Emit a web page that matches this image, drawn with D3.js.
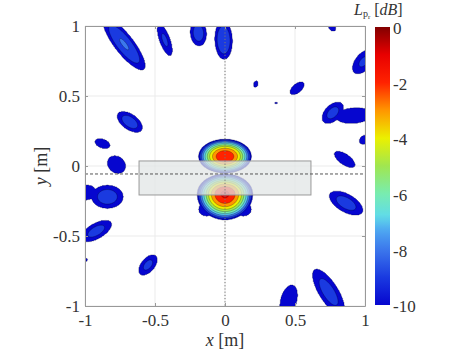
<!DOCTYPE html>
<html>
<head>
  <meta charset="utf-8">
  <title>Pressure level map</title>
  <script src="https://d3js.org/d3.v7.min.js"></script>
  <style>
    body { margin: 0; background: #fff; }
    .lbl { font-family: "Liberation Serif", "DejaVu Serif", serif; fill: #333; }
    .axis path, .axis line { stroke: #999; }
  </style>
</head>
<body>
<svg id="chart"></svg>
<script>
  // lobes: [x, y, half-length, half-width, angle (deg), peak dB]
  // 7th / 8th entries (optional) = half-length / half-width on the negative side
  var mainLobes = [
    [0, 0.068, 0.19, 0.125, 0, -1.0, 0.19, 0.12],
    [0, -0.2, 0.2, 0.145, 0, -0.8, 0.2, 0.186],
    [-0.13, -0.31, 0.06, 0.05, 0, -9.0],
    [0.13, -0.31, 0.06, 0.05, 0, -9.0]
  ];
  var topLobes = [
    [-0.72, 0.87, 0.23, 0.07, -52, -7.9],
    [-0.43, 0.9, 0.12, 0.04, -70, -8.8],
    [-0.19, 0.95, 0.095, 0.06, -85, -8.4],
    [-0.01, 0.9, 0.14, 0.065, -88, -8.0],
    [0.765, 0.995, 0.037, 0.027, -60, -9.4]
  ];
  var leftLobes = [
    [-0.68, 0.315, 0.105, 0.057, -35, -8.4],
    [-0.875, 0.16, 0.058, 0.034, -20, -9.2],
    [-0.775, 0.01, 0.072, 0.06, -40, -9.1],
    [-0.84, -0.22, 0.115, 0.085, 0, -8.4],
    [-0.99, -0.19, 0.07, 0.055, 10, -9.4],
    [-0.92, -0.465, 0.125, 0.057, 30, -8.6],
    [-1.0, -0.67, 0.02, 0.016, 0, -9.6],
    [-0.55, -0.707, 0.088, 0.05, 50, -8.7]
  ];
  var rightLobes = [
    [0.99, 0.745, 0.105, 0.06, 50, -8.8],
    [0.22, 0.585, 0.026, 0.018, 70, -9.5],
    [0.515, 0.555, 0.063, 0.034, 40, -9.2],
    [0.365, 0.45, 0.012, 0.009, 0, -9.8],
    [0.77, 0.38, 0.095, 0.058, 45, -8.6],
    [0.92, 0.36, 0.13, 0.058, 5, -9.0],
    [1.0, 0.19, 0.047, 0.032, 30, -9.3],
    [0.855, 0.047, 0.088, 0.04, -35, -9.2],
    [0.865, -0.265, 0.135, 0.066, -30, -8.5],
    [0.455, -0.96, 0.115, 0.06, 75, -9.1],
    [0.74, -0.9, 0.19, 0.07, -58, -8.5]
  ];

  var levels = [-10, -9, -8, -7, -6, -5, -4, -3, -2, -1];
  var cmapValues = [-10, -9, -8, -7.3, -6.8, -6, -5, -4, -3, -2, -1, 0];
  var cmapColors = ["#0606cf", "#1a3ae0", "#3c78ec", "#4ea8f2", "#60dce8", "#78ecb0",
                    "#a0e650", "#ebf000", "#ff9600", "#ff2200", "#e80000", "#820000"];
  var axisTicks = [-1, -0.5, 0, 0.5, 1];
  var cbarTicks = [0, -2, -4, -6, -8, -10];

  var body = { x0: -0.614, x1: 0.614, y0: -0.207, y1: 0.036 };  // grey box
  var dashY = -0.057;
  var dotX = 0;

  var width = 474, height = 353;
  var svg = d3.select("#chart").attr("width", width).attr("height", height);

  var x = d3.scaleLinear().domain([-1, 1]).range([85, 365]);
  var y = d3.scaleLinear().domain([-1, 1]).range([306, 26]);
  var color = d3.scaleLinear().domain(cmapValues).range(cmapColors).clamp(true);

  // level of one lobe: parabolic in dB inside its -10 dB ellipse, steep outside
  function lobeLevel(l, px, py) {
    var a = l[4] * Math.PI / 180;
    var dx = px - l[0], dy = py - l[1];
    var u = dx * Math.cos(a) + dy * Math.sin(a);
    var v = -dx * Math.sin(a) + dy * Math.cos(a);
    var au = u >= 0 ? l[2] : (l[6] || l[2]);
    var bv = v >= 0 ? l[3] : (l[7] || l[3]);
    var r2 = (u / au) * (u / au) + (v / bv) * (v / bv);
    return r2 <= 1 ? l[5] - (l[5] + 10) * r2 : -10 - 40 * (r2 - 1);
  }

  var lobes = mainLobes.concat(topLobes, leftLobes, rightLobes);
  var gMin = -1.1, step = 0.005, n = 441;
  var values = new Float64Array(n * n);
  for (var j = 0; j < n; j++) {
    var py = -gMin - j * step;
    for (var i = 0; i < n; i++) {
      var px = gMin + i * step;
      values[j * n + i] = d3.max(lobes, l => lobeLevel(l, px, py));
    }
  }

  var contours = d3.contours().size([n, n]).thresholds(levels)(values);
  var path = d3.geoPath(d3.geoTransform({
    point: function(gx, gy) {
      this.stream.point(x(gMin + (gx - 0.5) * step), y(-gMin - (gy - 0.5) * step));
    }
  }));

  svg.append("defs").append("clipPath").attr("id", "plotClip")
    .append("rect").attr("x", 85).attr("y", 26).attr("width", 280).attr("height", 280);

  // grid
  svg.append("g").selectAll("line").data(axisTicks).enter().append("line")
    .attr("x1", d => x(d)).attr("x2", d => x(d)).attr("y1", 26).attr("y2", 306)
    .attr("stroke", "#ebebeb");
  svg.append("g").selectAll("line").data(axisTicks).enter().append("line")
    .attr("y1", d => y(d)).attr("y2", d => y(d)).attr("x1", 85).attr("x2", 365)
    .attr("stroke", "#ebebeb");

  svg.append("g").attr("clip-path", "url(#plotClip)")
    .selectAll("path").data(contours).enter().append("path")
    .attr("d", path)
    .attr("fill", d => color(d.value))
    .attr("stroke", "#000")
    .attr("stroke-opacity", 0.5)
    .attr("stroke-width", 0.5);

  // grey body
  svg.append("rect")
    .attr("x", x(body.x0)).attr("y", y(body.y1))
    .attr("width", x(body.x1) - x(body.x0)).attr("height", y(body.y0) - y(body.y1))
    .attr("fill", "#e2e5e5").attr("fill-opacity", 0.75)
    .attr("stroke", "#999").attr("stroke-width", 1);

  svg.append("line")
    .attr("x1", x(-1)).attr("x2", x(1)).attr("y1", y(dashY)).attr("y2", y(dashY))
    .attr("stroke", "#555").attr("stroke-width", 1).attr("stroke-dasharray", "3,2");
  svg.append("line")
    .attr("x1", x(dotX)).attr("x2", x(dotX)).attr("y1", 26).attr("y2", 306)
    .attr("stroke", "#777").attr("stroke-width", 1).attr("stroke-dasharray", "1.2,2");

  // axes
  var fmt = d => String(d);
  function styleAxis(g) {
    g.attr("font-family", "Liberation Serif, DejaVu Serif, serif").attr("font-size", 17);
    g.selectAll("text").attr("fill", "#333");
  }
  svg.append("g").attr("class", "axis").attr("transform", "translate(0,306)")
    .call(d3.axisBottom(x).tickValues(axisTicks).tickFormat(fmt).tickSizeInner(-3).tickSizeOuter(0).tickPadding(8))
    .call(styleAxis);
  svg.append("g").attr("class", "axis").attr("transform", "translate(85,0)")
    .call(d3.axisLeft(y).tickValues(axisTicks).tickFormat(fmt).tickSizeInner(-3).tickSizeOuter(0).tickPadding(5))
    .call(styleAxis);
  svg.append("g").attr("class", "axis").attr("transform", "translate(0,26)")
    .call(d3.axisTop(x).tickValues(axisTicks).tickFormat("").tickSizeInner(-3).tickSizeOuter(0));
  svg.append("g").attr("class", "axis").attr("transform", "translate(365,0)")
    .call(d3.axisRight(y).tickValues(axisTicks).tickFormat("").tickSizeInner(-3).tickSizeOuter(0));

  var xl = svg.append("text").attr("class", "lbl").attr("x", 225).attr("y", 346)
    .attr("text-anchor", "middle").style("font-size", "18px");
  xl.append("tspan").style("font-style", "italic").text("x");
  xl.append("tspan").text(" [m]");

  var yl = svg.append("text").attr("class", "lbl")
    .attr("transform", "translate(47,166) rotate(-90)")
    .attr("text-anchor", "middle").style("font-size", "18px");
  yl.append("tspan").style("font-style", "italic").text("y");
  yl.append("tspan").text(" [m]");

  // colorbar
  var cb = { x: 375, w: 15 };
  var cy = d3.scaleLinear().domain([-10, 0]).range([305, 27]);
  var grad = svg.select("defs").append("linearGradient").attr("id", "cbGrad")
    .attr("x1", 0).attr("x2", 0).attr("y1", 1).attr("y2", 0);
  grad.selectAll("stop").data(d3.range(0, 41)).enter().append("stop")
    .attr("offset", d => d / 40)
    .attr("stop-color", d => color(-10 + d / 4));
  svg.append("rect").attr("x", cb.x).attr("y", cy(0)).attr("width", cb.w)
    .attr("height", cy(-10) - cy(0)).attr("fill", "url(#cbGrad)");

  svg.append("g").selectAll("text").data(cbarTicks).enter().append("text")
    .attr("class", "lbl").style("font-size", "17px")
    .attr("x", cb.x + cb.w + 3).attr("y", d => cy(d)).attr("dy", "0.42em")
    .text(d => String(d));

  var cl = svg.append("text").attr("class", "lbl").attr("x", 354).attr("y", 15).style("font-size", "16px");
  cl.append("tspan").style("font-style", "italic").text("L");
  cl.append("tspan").attr("dy", 2).style("font-size", "10px").text("p");
  cl.append("tspan").attr("dy", 1.5).style("font-size", "7px").text("r");
  cl.append("tspan").attr("dy", -3.5).text(" [");
  cl.append("tspan").style("font-style", "italic").text("dB");
  cl.append("tspan").text("]");
</script>
</body>
</html>
